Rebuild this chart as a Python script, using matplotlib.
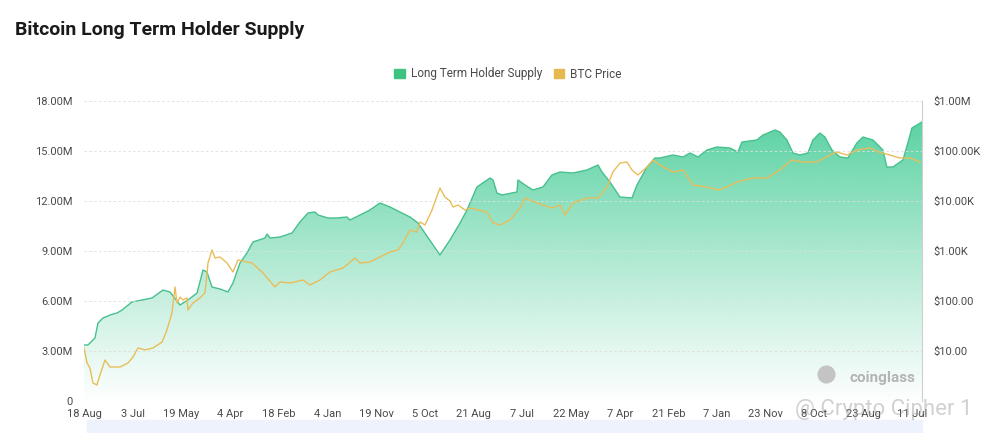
import numpy as np
import matplotlib
matplotlib.use('Agg')
import matplotlib.pyplot as plt
from matplotlib.patches import Patch, Rectangle

plt.rcParams['font.family'] = ['Roboto', 'DejaVu Sans']

# days counted from 18 Aug 2011, one x label every 320 days
tick_labels = ['18 Aug', '3 Jul', '19 May', '4 Apr', '18 Feb', '4 Jan', '19 Nov', '5 Oct',
               '21 Aug', '7 Jul', '22 May', '7 Apr', '21 Feb', '7 Jan', '23 Nov', '8 Oct',
               '23 Aug', '11 Jul']
tick_step = 320
last_day = 5507

supply_days = [0, 26, 72, 92, 125, 171, 217, 250, 315, 381, 447, 519, 565, 631, 683, 743,
               782, 808, 841, 894, 946, 979, 1025, 1071, 1110, 1189, 1203, 1222, 1288, 1367,
               1419, 1472, 1518, 1538, 1603, 1662, 1728, 1748, 1814, 1879, 1945, 2011, 2076,
               2142, 2195, 2339, 2405, 2471, 2517, 2582, 2668, 2688, 2714, 2747, 2845, 2852,
               2898, 2950, 3016, 3075, 3128, 3213, 3305, 3378, 3404, 3456, 3522, 3601, 3634,
               3700, 3752, 3785, 3870, 3936, 3982, 4035, 4094, 4159, 4245, 4297, 4324, 4422,
               4462, 4541, 4573, 4619, 4659, 4705, 4757, 4790, 4836, 4869, 4915, 4968, 5020,
               5079, 5119, 5185, 5250, 5276, 5316, 5382, 5414, 5441, 5474, 5507]
# long term holder supply, millions of BTC
supply = [3.36, 3.36, 3.78, 4.68, 4.98, 5.16, 5.28, 5.46, 5.94, 6.06, 6.18, 6.66, 6.54, 5.76,
          6.06, 6.48, 7.86, 7.74, 6.84, 6.72, 6.54, 7.08, 8.28, 8.88, 9.54, 9.78, 10.02, 9.78,
          9.84, 10.08, 10.74, 11.28, 11.34, 11.16, 10.98, 10.98, 11.04, 10.86, 11.16, 11.46,
          11.88, 11.64, 11.34, 11.04, 10.68, 8.76, 9.66, 10.68, 11.46, 12.84, 13.38, 13.26,
          12.48, 12.36, 12.54, 13.26, 12.96, 12.66, 12.84, 13.56, 13.74, 13.68, 13.86, 14.16,
          13.74, 13.14, 12.24, 12.18, 12.96, 14.04, 14.58, 14.58, 14.76, 14.64, 14.88, 14.64,
          15.06, 15.24, 15.18, 14.94, 15.54, 15.66, 15.96, 16.26, 16.14, 15.66, 14.88, 14.76,
          14.88, 15.66, 16.08, 15.84, 15.06, 14.64, 14.58, 15.48, 15.84, 15.66, 15.06, 14.04,
          14.04, 14.46, 15.48, 16.38, 16.56, 16.74]

price_days = [0, 20, 39, 59, 85, 105, 138, 171, 237, 289, 322, 355, 401, 453, 513, 545, 578,
              598, 611, 631, 651, 677, 683, 716, 762, 795, 815, 841, 861, 894, 940, 979, 1012,
              1104, 1170, 1255, 1288, 1354, 1439, 1485, 1551, 1616, 1702, 1781, 1814, 1879,
              1945, 2011, 2063, 2096, 2142, 2188, 2208, 2241, 2287, 2339, 2372, 2405, 2425,
              2458, 2504, 2536, 2648, 2688, 2734, 2799, 2865, 2898, 2977, 3075, 3128, 3161,
              3213, 3305, 3378, 3437, 3476, 3522, 3568, 3601, 3640, 3700, 3739, 3785, 3870,
              3936, 4002, 4094, 4166, 4225, 4291, 4396, 4488, 4573, 4652, 4724, 4816, 4902,
              4948, 5014, 5079, 5165, 5230, 5296, 5362, 5428, 5494]
# BTC price, USD
price = [11.5, 5.75, 4.57, 2.29, 2.09, 3.31, 6.61, 4.79, 4.79, 5.75, 7.59, 11.5, 10.5, 11.5,
         15.1, 26.3, 57.5, 191, 91.2, 120, 105, 115, 66.1, 91.2, 115, 145, 575, 1047, 724, 759,
         575, 380, 661, 575, 380, 191, 240, 229, 263, 209, 263, 380, 457, 724, 575, 603, 759,
         955, 1047, 1445, 2630, 2399, 3802, 3311, 6607, 18197, 11967, 10000, 7586, 8318, 6607,
         7244, 6026, 3631, 3311, 4169, 7244, 11482, 9120, 7244, 8318, 5248, 9120, 11482, 11482,
         19055, 38019, 57544, 60256, 41687, 33113, 47863, 66069, 52481, 38019, 41687, 20893,
         19055, 16596, 19055, 23988, 28840, 28840, 41687, 66069, 60256, 60256, 83176, 95499,
         83176, 104713, 114815, 93325, 83176, 72444, 72444, 60256]

supply_ticks = [0, 3, 6, 9, 12, 15, 18]
supply_tick_labels = ['0', '3.00M', '6.00M', '9.00M', '12.00M', '15.00M', '18.00M']
price_ticks = [10, 100, 1e3, 1e4, 1e5, 1e6]
price_tick_labels = ['$10.00', '$100.00', '$1.00K', '$10.00K', '$100.00K', '$1.00M']

green = '#4fcf9c'
line_green = '#47c08e'
yellow = '#e8bd5a'
text_col = '#4a4a4a'

fig = plt.figure(figsize=(10.06, 4.33), dpi=100)
ax = fig.add_axes([84 / 1006, 1 - 401 / 433, 838 / 1006, 300 / 433])

# gradient under the supply line
poly = ax.fill_between(supply_days, supply, 0, color='none', lw=0)
grad = np.zeros((256, 1, 4))
rgb = matplotlib.colors.to_rgb(green)
grad[:, 0, 0], grad[:, 0, 1], grad[:, 0, 2] = rgb
grad[:, 0, 3] = np.linspace(0.95, 0.02, 256) ** 1.1
img = ax.imshow(grad, extent=[0, last_day, 0, 17], aspect='auto', origin='upper', zorder=1)
path = poly.get_paths()[0]
img.set_clip_path(path, transform=ax.transData)
ax.plot(supply_days, supply, color=line_green, lw=1.0, zorder=2)

ax.set_xlim(0, last_day)
ax.set_ylim(0, 18)
ax.set_yticks(supply_ticks)
ax.set_yticklabels(supply_tick_labels)
ax.set_xticks([i * tick_step for i in range(len(tick_labels))])
ax.set_xticklabels(tick_labels)
ax.tick_params(axis='both', length=0, labelsize=8, colors=text_col)
ax.tick_params(axis='y', pad=8)
ax.tick_params(axis='x', pad=6)
ax.set_axisbelow(False)
ax.grid(axis='y', color='#dedede', lw=0.7, ls=(0, (2.5, 2.5)), alpha=0.9, zorder=3)
for s in ax.spines.values():
    s.set_visible(False)

ax2 = ax.twinx()
ax2.plot(price_days, price, color=yellow, lw=1.0)
ax2.set_yscale('log')
ax2.set_ylim(1, 1e6)
ax2.set_yticks(price_ticks)
ax2.set_yticklabels(price_tick_labels)
ax2.minorticks_off()
ax2.tick_params(axis='y', length=0, labelsize=8, colors=text_col, pad=8)
for k, s in ax2.spines.items():
    s.set_visible(k == 'right')
ax2.spines['right'].set_color('#cfcfcf')
ax2.spines['right'].set_linewidth(0.8)

fig.text(15 / 1006, 1 - 30 / 433, 'Bitcoin Long Term Holder Supply', fontsize=14,
         fontweight='bold', color='#1a1a1a', va='center')

handles = [Patch(color='#3dc27f', label='Long Term Holder Supply'),
           Patch(color='#e6b94e', label='BTC Price')]
fig.legend(handles=handles, loc='center', bbox_to_anchor=(508 / 1006, 1 - 74 / 433), ncol=2,
           frameon=False, fontsize=8.5, handlelength=0.9, handleheight=0.9, handletextpad=0.5,
           columnspacing=1.0, labelcolor=text_col)

# slider strip and watermarks
fig.patches.append(Rectangle((87 / 1006, 0), 835 / 1006, 13 / 433, transform=fig.transFigure,
                             color='#eef2fc', zorder=0))
ax.plot([0.886], [0.09], marker='o', ms=12, color='#c4c4c4', transform=ax.transAxes,
        clip_on=False, zorder=4)
fig.text(850 / 1006, 1 - 378 / 433, 'coinglass', fontsize=11, fontweight='bold',
         color='#b4b4b4', va='center')
fig.text(795 / 1006, 1 - 410 / 433, '@ Crypto Cipher 1', fontsize=16, color='#9a9a9a',
         alpha=0.45, va='center')

fig.savefig('out.png', dpi=100)
